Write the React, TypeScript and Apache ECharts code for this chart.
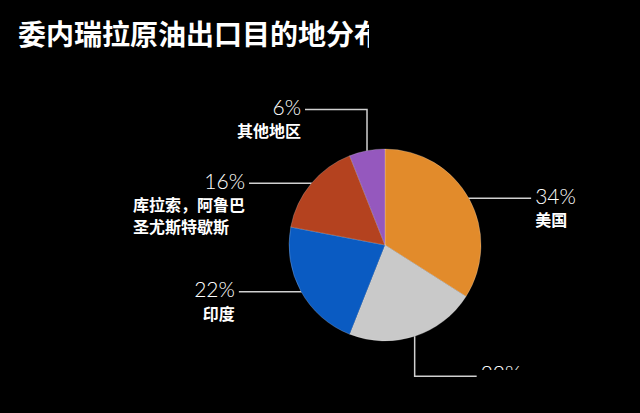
import React, { useEffect, useRef } from 'react';
import * as echarts from 'echarts';

const titleText = '委内瑞拉原油出口目的地分布';
const categories = ['美国', '中国', '印度', '库拉索，阿鲁巴\n圣尤斯特歇斯　', '其他地区'];
const showNames = [true, false, true, true, true];
const values = [34, 22, 22, 16, 6];
const colors = ['#E28B2B', '#C9C9C9', '#0A5BC2', '#B4421F', '#9558BE'];
const verticalLeader = [false, true, false, false, true];

export default function App() {
  const ref = useRef<HTMLDivElement>(null);
  useEffect(() => {
    if (!ref.current) return;
    const chart = echarts.init(ref.current, undefined, { renderer: 'svg' });
    const H2 = 62;
    chart.setOption({
      animation: false,
      backgroundColor: '#000',
      title: {
        text: titleText,
        left: 13,
        top: 14,
        textStyle: { color: '#fff', fontSize: 28, fontWeight: 'bold', fontFamily: 'Noto Sans CJK SC' },
      },
      graphic: [
        { type: 'rect', z: 100, shape: { x: 369, y: 5, width: 80, height: 60 }, style: { fill: '#000' } },
        { type: 'rect', z: 100, shape: { x: 479, y: 370, width: 161, height: 43 }, style: { fill: '#000' } },
      ],
      series: [
        {
          type: 'pie',
          center: [385, 245],
          radius: 96,
          startAngle: 90,
          clockwise: true,
          avoidLabelOverlap: false,
          itemStyle: { borderColor: 'rgba(255,255,255,0.35)', borderWidth: 0.6 },
          label: {
            position: 'outer',
            alignTo: 'none',
            color: '#fff',
            formatter: (p: any) => {
              const i = p.dataIndex;
              let s = `{p|${p.value}%}`;
              if (showNames[i]) {
                s += '\n' + categories[i].split('\n').map((l) => `{n|${l}}`).join('\n');
              }
              return s;
            },
            rich: {
              p: { fontSize: 21, fontWeight: 300, fontFamily: 'Lato', color: '#fff', lineHeight: 26 },
              n: { fontSize: 16, fontWeight: 'bold', fontFamily: 'Noto Sans CJK SC', color: '#fff', lineHeight: 22 },
            },
          },
          labelLine: {
            show: true,
            length: 1,
            length2: H2,
            lineStyle: { color: '#d0d0d0', width: 1.5 },
          },
          labelLayout: (params: any) => {
            const pts = params.labelLinePoints;
            if (!pts) return {};
            const p0 = pts[0];
            const p1 = pts[1];
            const p2 = pts[2];
            const dir = p2[0] >= p1[0] ? 1 : -1;
            const y = p1[1];
            const p1n = [p0[0], y];
            const p2n = [p0[0] + dir * H2, y];
            const i = params.dataIndex;
            const lines = showNames[i] ? categories[i].split('\n').length : 0;
            const offset = lines * 11 - 3 - (lines === 0 ? 1 : 0);
            return {
              labelLinePoints: [p0, p1n, p2n],
              x: p2n[0] + dir * 4,
              y: y + offset,
              align: dir > 0 ? 'left' : 'right',
              verticalAlign: 'middle',
            };
          },
          data: values.map((v, i) => ({
            value: v,
            name: categories[i],
            itemStyle: { color: colors[i] },
            labelLine: { length: verticalLeader[i] ? 42 : 1 },
          })),
        },
      ],
    });
    return () => chart.dispose();
  }, []);
  return (
    <div
      ref={ref}
      style={{ position: 'fixed', left: 0, top: 0, width: 640, height: 413, background: '#000' }}
    />
  );
}
